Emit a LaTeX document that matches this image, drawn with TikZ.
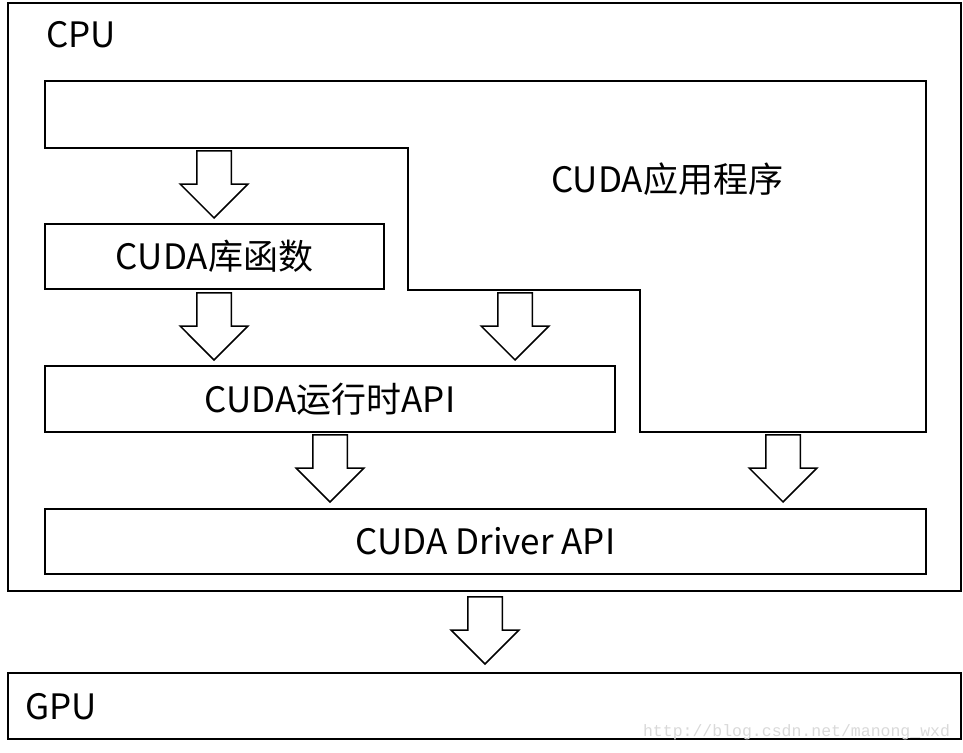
\documentclass[tikz,border=0pt]{standalone}
\usepackage{fontspec}
\setmainfont{Noto Sans CJK SC}
\newfontfamily\markfont{Liberation Mono}
\usetikzlibrary{shapes.arrows, positioning}

\begin{document}
\begin{tikzpicture}[x=1pt, y=-1pt, line width=2pt]
            \tikzset{
                layer_box/.style={draw, shape = rectangle, inner sep=0pt, font=\fontsize{35}{38}\selectfont},
                label_text/.style={inner sep=0pt, font=\fontsize{35}{38}\selectfont},
                block_arrow/.style={draw, shape = single arrow, shape border rotate=270, inner sep=16.5pt, anchor=tip,
                    minimum width=66pt, minimum height=67pt, single arrow head extend=16.5pt, line width=1.5pt}
            }
            \useasboundingbox (0,0) rectangle (963,752);

            % CPU side
            \node[layer_box, minimum width=953pt, minimum height=588pt] (cpu) at (484.5,297) {};
            \node[label_text, anchor=west] (cpu_name) at (45,35) {CPU};

            % application region
            \draw (45,81) -- (926,81) -- (926,432) -- (640,432) -- (640,290)
                -- (408,290) -- (408,148) -- (45,148) -- cycle;
            \node[label_text] (app) at (667,179) {CUDA应用程序};

            \node[layer_box, minimum width=339pt, minimum height=65pt] (lib) at (214.5,256.5) {CUDA库函数};
            \node[layer_box, minimum width=570pt, minimum height=66pt] (rt) at (330,399) {CUDA运行时API};
            \node[layer_box, minimum width=881pt, minimum height=65pt] (drv) at (485.5,541.5) {CUDA Driver API};

            % GPU side
            \node[layer_box, minimum width=953pt, minimum height=66pt] (gpu) at (484.5,706) {};
            \node[label_text, anchor=west] (gpu_name) at (24,707) {GPU};

            % calls (placed by their tips)
            \node[block_arrow] (a1) at (214,219) {};
            \node[block_arrow] (a2) at (214,361) {};
            \node[block_arrow] (a3) at (515,361) {};
            \node[block_arrow] (a4) at (330,503) {};
            \node[block_arrow] (a5) at (783,503) {};
            \node[block_arrow] (a6) at (485,665) {};

            \node[anchor=base east, inner sep=0pt, text=black!15, font=\markfont\fontsize{16.5}{16.5}\selectfont] (mark) at (951,736) {http://blog.csdn.net/manong\_wxd};
        \end{tikzpicture}
\end{document}
